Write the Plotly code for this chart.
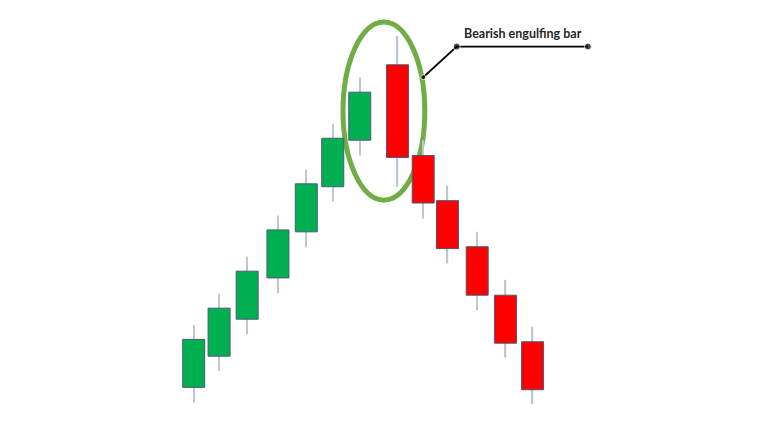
import plotly.graph_objects as go

# candle positions (bar slots) and OHLC values
slots = [0.0, 0.94, 1.98, 3.12, 4.17, 5.15, 6.15, 7.55, 8.5, 9.4, 10.5, 11.55, 12.55]
opens = [9.3, 15.8, 23.5, 32.1, 41.7, 51.1, 60.8, 76.5, 57.6, 48.2, 38.6, 28.5, 18.8]
closes = [19.3, 25.8, 33.5, 42.1, 51.7, 61.2, 70.8, 57.2, 47.7, 38.2, 28.5, 18.5, 8.8]
highs = [22.3, 28.8, 36.5, 45.1, 54.7, 64.2, 73.9, 82.5, 60.8, 51.3, 41.7, 31.7, 21.9]
lows = [6.1, 12.7, 20.4, 28.9, 38.5, 48.0, 57.6, 51.1, 44.5, 35.1, 25.4, 15.5, 5.8]

label = "Bearish engulfing bar"

colors = ["#00b050" if c > o else "#ff0000" for o, c in zip(opens, closes)]

fig = go.Figure()
# wicks as very thin bars, drawn first so the bodies cover them
fig.add_trace(go.Bar(x=slots, y=[h - l for l, h in zip(lows, highs)], base=lows,
                     width=0.05, marker=dict(color="#bcc6d6", line=dict(width=0)),
                     hoverinfo="skip"))
fig.add_trace(go.Bar(x=slots, y=[c - o for o, c in zip(opens, closes)], base=opens,
                     width=0.815, marker=dict(color=colors, line=dict(color="#4a5a78", width=1))))

# callout line with dots
fig.add_trace(go.Scatter(x=[8.5, 9.74, 14.6], y=[73.9, 80.3, 80.3], mode="lines+markers",
                         line=dict(color="black", width=1.8),
                         marker=dict(color="black", size=[5, 7, 7])))

# green ellipse round the engulfing pair
fig.add_shape(type="circle", x0=5.53, x1=8.56, y0=48.3, y1=85.4,
              line=dict(color="#70ad47", width=5), layer="below")

fig.add_annotation(x=12.2, y=83.1, text=label, showarrow=False,
                   font=dict(family="Lato", size=12.5, color="#262626", weight="bold"))

# page body has an 8px margin, so shift the ranges to keep the marks in place
xmin = (8 - 193.7) / 27
ymax = 424 / 4.8
fig.update_layout(
    width=768, height=432,
    margin=dict(l=0, r=0, t=0, b=0),
    plot_bgcolor="white", paper_bgcolor="white",
    showlegend=False, barmode="overlay",
    xaxis=dict(range=[xmin, xmin + 768 / 27], visible=False),
    yaxis=dict(range=[ymax - 90, ymax], visible=False),
)

fig.write_html("out.html")
